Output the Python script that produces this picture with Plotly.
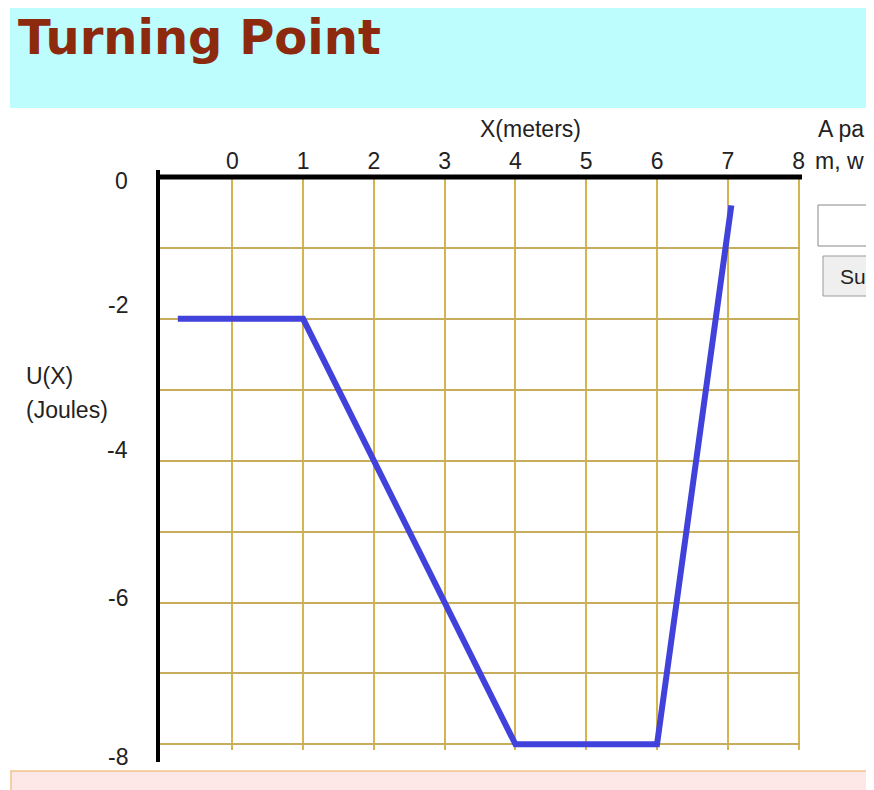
import plotly.graph_objects as go

x_vals = [-0.77, 1, 4, 6, 7.05]
u_vals = [-2, -2, -8, -8, -0.4]
x_ticks = [0, 1, 2, 3, 4, 5, 6, 7, 8]
y_ticks = [0, -2, -4, -6, -8]

O = 8  # page body margin offset
W, H = 874 - O, 790 - O
L, R, T, B = 158 - O, 800 - O, 177 - O, 750 - O
def px(x): return (x - O - L) / (R - L)
def py(y): return (B - (y - O)) / (B - T)

FONT = "Liberation Sans"
fig = go.Figure()
fig.add_trace(go.Scatter(x=x_vals, y=u_vals, mode="lines",
                         line=dict(color="#4141dc", width=6), hoverinfo="skip"))

fig.update_layout(
    width=W, height=H, margin=dict(l=L, r=W - R, t=T, b=H - B),
    paper_bgcolor="white", plot_bgcolor="white", showlegend=False,
    xaxis=dict(range=[-1.05, 8.02], side="top", tickvals=x_ticks, showgrid=True,
               gridcolor="#d6b450", gridwidth=1.5, zeroline=False, ticks="",
               tickfont=dict(family=FONT, size=23, color="#222"), ticklabelstandoff=2),
    yaxis=dict(range=[-8.08, 0], tickvals=[0, -1, -2, -3, -4, -5, -6, -7, -8], showgrid=True,
               gridcolor="#c9ad5f", gridwidth=1.5, zeroline=False, showticklabels=False, ticks=""),
)

shapes = [
    dict(type="rect", xref="paper", yref="paper", x0=px(10), x1=px(880), y0=py(108), y1=py(-5),
         fillcolor="#bdfdfd", line=dict(width=0), layer="below"),
    dict(type="rect", xref="paper", yref="paper", x0=px(11), x1=px(880), y0=py(800), y1=py(771),
         fillcolor="#fde7e7", line=dict(color="#f0c38a", width=1.5)),
    dict(type="line", xref="paper", yref="paper", x0=px(156), x1=px(802), y0=py(177), y1=py(177),
         line=dict(color="black", width=5)),
    dict(type="line", xref="paper", yref="paper", x0=px(158), x1=px(158), y0=py(170), y1=py(762),
         line=dict(color="black", width=4)),
    dict(type="rect", xref="paper", yref="paper", x0=px(818), x1=px(880), y0=py(246), y1=py(205),
         fillcolor="white", line=dict(color="#888", width=1)),
    dict(type="rect", xref="paper", yref="paper", x0=px(823), x1=px(880), y0=py(296), y1=py(256),
         fillcolor="#efefef", line=dict(color="#999", width=1)),
]
fig.update_layout(shapes=shapes)

def ann(text, x, y, size=23, xanchor="left", yanchor="middle", color="#222", bold=False, family=FONT):
    t = f"<b>{text}</b>" if bold else text
    fig.add_annotation(text=t, x=px(x), y=py(y), xref="paper", yref="paper", showarrow=False,
                       xanchor=xanchor, yanchor=yanchor, font=dict(family=family, size=size, color=color))

ann("Turning Point", 16, 37, size=48, bold=True, color="#8d2a0e", family="DejaVu Sans")
ann("X(meters)", 530, 129, xanchor="center")
ann("U(X)", 24, 376)
ann("(Joules)", 24, 410)
ann("A pa", 816, 129)
ann("m, w", 813, 161)
ann("Sul", 838, 276, size=21)
ylab_px = {0: 181, -2: 305, -4: 450, -6: 598, -8: 757}
for v in y_ticks:
    ann(str(v), 130, ylab_px[v], xanchor="right")

fig.write_html("out.html")
